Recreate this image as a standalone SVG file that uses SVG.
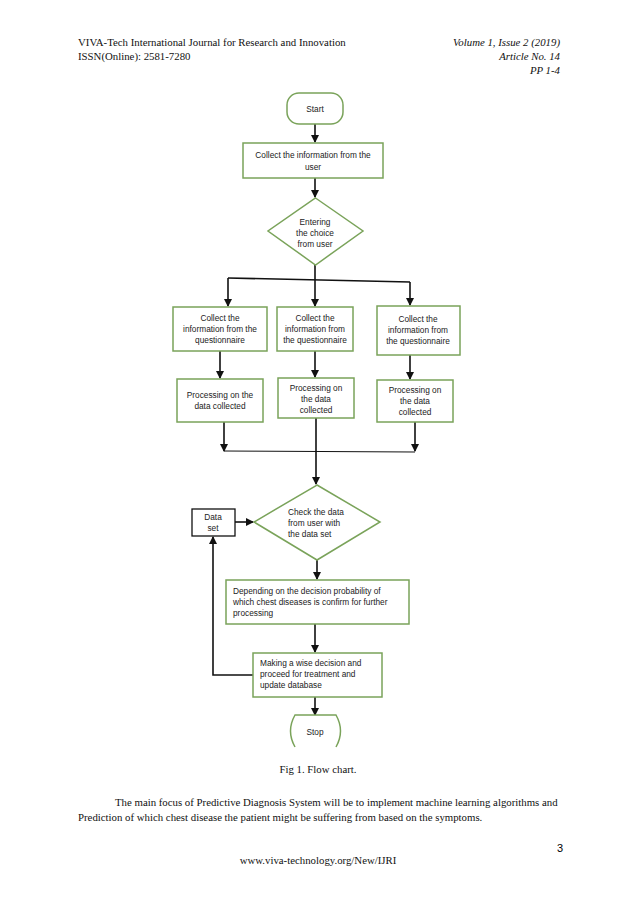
<svg xmlns="http://www.w3.org/2000/svg" width="638" height="902" viewBox="0 0 638 902">
<style>
.t{font-family:"Liberation Serif",serif;font-size:10.8px;fill:#111}
.i{font-style:italic}
.n{fill:#fff;stroke:#7aa35a;stroke-width:1.5}
.l{font-family:"Liberation Sans",Arial,sans-serif;font-size:8.3px;fill:#222;text-anchor:middle}
.c{fill:none;stroke:#111;stroke-width:1.6}
</style>
<defs><marker id="a" markerWidth="8" markerHeight="8" refX="7" refY="4" orient="auto" markerUnits="userSpaceOnUse"><path d="M0,0L8,4L0,8z" fill="#111"/></marker></defs>
<rect width="638" height="902" fill="#fff"/>
<text class="t" x="78" y="46">VIVA-Tech International Journal for Research and Innovation</text>
<text class="t" x="78" y="60">ISSN(Online): 2581-7280</text>
<text class="t i" x="560" y="46" text-anchor="end">Volume 1, Issue 2 (2019)</text>
<text class="t i" x="560" y="60" text-anchor="end">Article No. 14</text>
<text class="t i" x="560" y="74" text-anchor="end">PP 1-4</text>
<g id="connectors">
<path class="c" d="M315,124V142" marker-end="url(#a)"/>
<path class="c" d="M315,178V197" marker-end="url(#a)"/>
<path class="c" d="M315,265V279M228,278L410,282"/>
<path class="c" d="M228,278V306" marker-end="url(#a)"/>
<path class="c" d="M315,279V306" marker-end="url(#a)"/>
<path class="c" d="M410,282V305" marker-end="url(#a)"/>
<path class="c" d="M220,351V378" marker-end="url(#a)"/>
<path class="c" d="M315,351V377" marker-end="url(#a)"/>
<path class="c" d="M410,355V379" marker-end="url(#a)"/>
<path class="c" d="M224,422V451" marker-end="url(#a)"/>
<path class="c" d="M415,422V451" marker-end="url(#a)"/>
<path class="c" d="M224,451L415,452" style="stroke-width:1"/>
<path class="c" d="M316,418V484" marker-end="url(#a)"/>
<path class="c" d="M235,522H253" marker-end="url(#a)"/>
<path class="c" d="M317,560V579" marker-end="url(#a)"/>
<path class="c" d="M315,624V652" marker-end="url(#a)"/>
<path class="c" d="M253,675H213V537" marker-end="url(#a)"/>
<path class="c" d="M315,697V715" marker-end="url(#a)"/>
</g>
<g id="start"><rect class="n" x="287" y="93" width="56" height="31" rx="12"/><text class="l" x="315" y="112">Start</text></g>
<g id="collect"><rect class="n" x="243" y="143" width="140" height="35"/><text class="l" x="313" y="158">Collect the information from the</text><text class="l" x="313" y="170">user</text></g>
<g id="choice"><path class="n" d="M315.5,198L363,231L315.5,265L268,231z"/><text class="l" x="315" y="225">Entering</text><text class="l" x="315" y="236">the choice</text><text class="l" x="315" y="247">from user</text></g>
<g id="q1"><rect class="n" x="173" y="307" width="94" height="44"/><text class="l" x="220" y="321">Collect the</text><text class="l" x="220" y="332">information from the</text><text class="l" x="220" y="343">questionnaire</text></g>
<g id="q2"><rect class="n" x="277" y="307" width="76" height="44"/><text class="l" x="315" y="321">Collect the</text><text class="l" x="315" y="332">information from</text><text class="l" x="315" y="343">the questionnaire</text></g>
<g id="q3"><rect class="n" x="377" y="306" width="83" height="49"/><text class="l" x="418" y="322">Collect the</text><text class="l" x="418" y="333">information from</text><text class="l" x="418" y="344">the questionnaire</text></g>
<g id="p1"><rect class="n" x="177" y="379" width="86" height="43"/><text class="l" x="220" y="398">Processing on the</text><text class="l" x="220" y="409">data collected</text></g>
<g id="p2"><rect class="n" x="278" y="378" width="76" height="40"/><text class="l" x="316" y="391">Processing on</text><text class="l" x="316" y="402">the data</text><text class="l" x="316" y="413">collected</text></g>
<g id="p3"><rect class="n" x="377" y="380" width="76" height="42"/><text class="l" x="415" y="393">Processing on</text><text class="l" x="415" y="404">the data</text><text class="l" x="415" y="415">collected</text></g>
<g id="dataset"><rect x="192" y="509" width="43" height="27" fill="#fff" stroke="#111" stroke-width="1.3"/><text class="l" x="213" y="520">Data</text><text class="l" x="213" y="531">set</text></g>
<g id="check"><path class="n" d="M317,485L380,522L317,560L254,522z"/><text class="l" x="288" y="515" style="text-anchor:start">Check the data</text><text class="l" x="288" y="526" style="text-anchor:start">from user with</text><text class="l" x="288" y="537" style="text-anchor:start">the data set</text></g>
<g id="depend"><rect class="n" x="226" y="580" width="183" height="44"/><text class="l" x="233" y="594" style="text-anchor:start">Depending on the decision probability of</text><text class="l" x="233" y="605" style="text-anchor:start">which chest diseases is confirm for further</text><text class="l" x="233" y="616" style="text-anchor:start">processing</text></g>
<g id="decide"><rect class="n" x="253" y="653" width="129" height="44"/><text class="l" x="260" y="666" style="text-anchor:start">Making a wise decision and</text><text class="l" x="260" y="677" style="text-anchor:start">proceed for treatment and</text><text class="l" x="260" y="688" style="text-anchor:start">update database</text></g>
<g id="stop"><path d="M295,747Q286,731 295,715H336Q345,731 336,747" fill="#fff" stroke="#7aa35a" stroke-width="1.5"/><text class="l" x="315" y="735">Stop</text></g>
<text class="t" x="318" y="773" text-anchor="middle">Fig 1. Flow chart.</text>
<text class="t" x="115" y="806">The main focus of Predictive Diagnosis System will be to implement machine learning algorithms and</text>
<text class="t" x="78" y="821">Prediction of which chest disease the patient might be suffering from based on the symptoms.</text>
<text x="557" y="852" style="font-family:'Liberation Sans',sans-serif;font-size:11px">3</text>
<text class="t" x="318" y="864" text-anchor="middle">www.viva-technology.org/New/IJRI</text>
</svg>
